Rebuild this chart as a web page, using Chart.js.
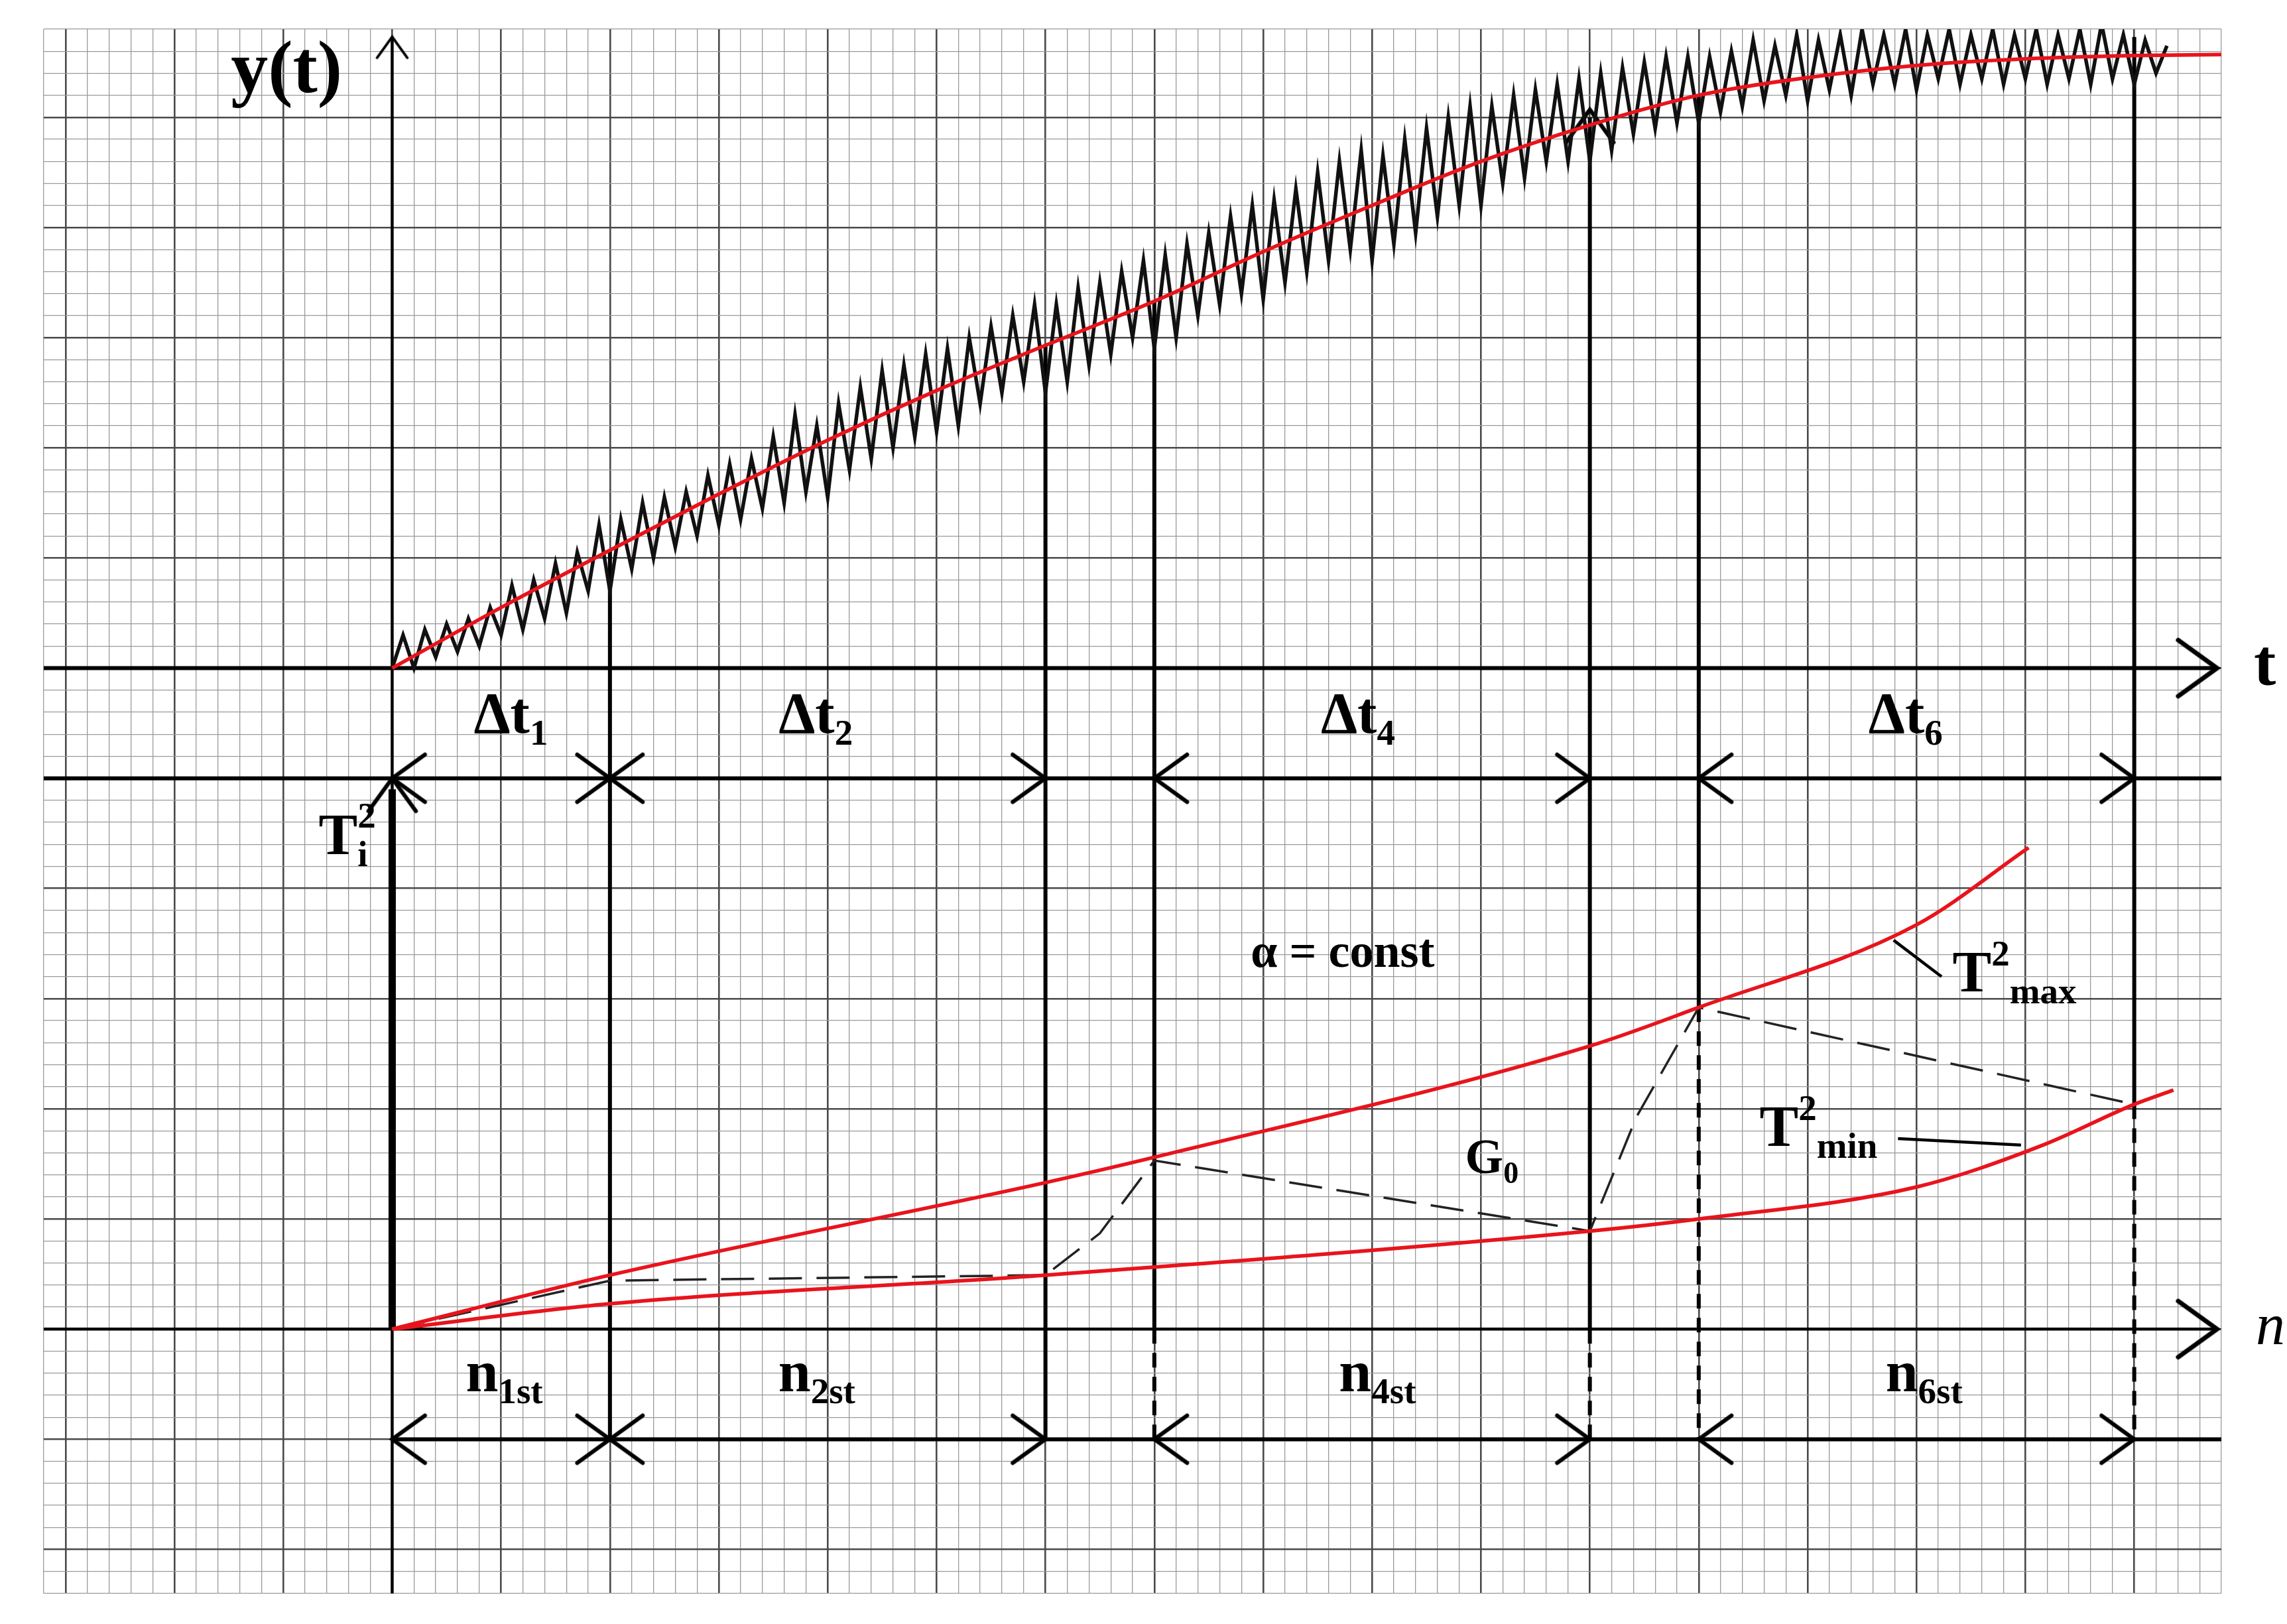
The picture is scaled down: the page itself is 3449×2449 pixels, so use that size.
<!DOCTYPE html>
<html lang="en">
<head>
<meta charset="UTF-8">
<title>y(t) and T² diagram</title>
<script src="https://cdn.jsdelivr.net/npm/chart.js"></script>
<style>
  html, body { margin: 0; padding: 0; background: #fff; }
  #wrap { width: 3449px; height: 2449px; }
</style>
</head>
<body>
<div id="wrap"><canvas id="c"></canvas></div>
<script>
// red trend of y(t)
const trendX = [0, 1, 2, 3, 4, 5, 6, 7, 8, 9, 10, 11, 12, 13, 14, 15, 16, 16.8];
const trendY = [6, 6.55, 7.07, 7.58, 8.07, 8.52, 8.93, 9.33, 9.78, 10.2, 10.6, 10.93, 11.2, 11.36, 11.47, 11.53, 11.56, 11.57];

// noisy measured y(t), sampled every 0.1 on t
const noisyY = [
  6.0, 6.3, 6.0, 6.35, 6.1, 6.4, 6.15, 6.45, 6.2, 6.55,
  6.3, 6.75, 6.35, 6.8, 6.45, 6.95, 6.5, 7.05, 6.7, 7.3,
  6.7, 7.35, 6.9, 7.5, 7.0, 7.55, 7.1, 7.6, 7.2, 7.75,
  7.3, 7.85, 7.35, 7.9, 7.45, 8.1, 7.5, 8.3, 7.6, 8.2,
  7.55, 8.4, 7.8, 8.55, 7.9, 8.7, 8.0, 8.75, 8.1, 8.85,
  8.15, 8.9, 8.2, 9.0, 8.4, 9.1, 8.5, 9.2, 8.6, 9.3,
  8.5, 9.3, 8.6, 9.45, 8.75, 9.5, 8.85, 9.6, 9.0, 9.7,
  8.9, 9.75, 9.0, 9.85, 9.2, 9.95, 9.3, 10.1, 9.4, 10.2,
  9.35, 10.25, 9.5, 10.35, 9.6, 10.5, 9.7, 10.6, 9.8, 10.7,
  9.7, 10.65, 9.85, 10.8, 9.95, 10.9, 10.1, 11.0, 10.2, 11.1,
  10.2, 11.1, 10.4, 11.2, 10.45, 11.25, 10.6, 11.3, 10.6, 11.35,
  10.6, 11.4, 10.7, 11.45, 10.85, 11.5, 10.9, 11.55, 10.95, 11.55,
  10.95, 11.55, 11.05, 11.6, 11.1, 11.7, 11.15, 11.65, 11.2, 11.75,
  11.15, 11.7, 11.25, 11.75, 11.2, 11.8, 11.3, 11.75, 11.3, 11.8,
  11.25, 11.75, 11.35, 11.8, 11.3, 11.75, 11.35, 11.8, 11.3, 11.75,
  11.35, 11.8, 11.3, 11.75, 11.35, 11.8, 11.3, 11.85, 11.35, 11.75,
  11.3, 11.7, 11.4, 11.65
];
const noisyStep = 0.1;

// T²max and T²min curves
const tmaxX = [0, 2, 6, 7, 11, 12, 14, 15.03];
const tmaxY = [0, 0.49, 1.33, 1.56, 2.57, 2.92, 3.67, 4.37];
const tminX = [0, 2, 6, 11, 12, 14, 15.16, 16, 16.36];
const tminY = [0, 0.23, 0.49, 0.89, 1.0, 1.29, 1.67, 2.04, 2.17];

// G0 dashed path
const g0X = [0, 2, 6, 6.5, 7, 11, 11.43, 12, 16];
const g0Y = [0, 0.44, 0.49, 0.87, 1.53, 0.89, 1.93, 2.92, 2.04];

// interval labels
const dtLabels = [['Δt', '1', 1.09], ['Δt', '2', 3.89], ['Δt', '4', 8.87], ['Δt', '6', 13.9]];
const nLabels = [['n', '1st', 1.03], ['n', '2st', 3.9], ['n', '4st', 9.05], ['n', '6st', 14.07]];

function seg(x1, y1, x2, y2) { return [{ x: x1, y: y1 }, { x: x2, y: y2 }]; }
function pts(xs, ys) { return xs.map((x, i) => ({ x, y: ys[i] })); }

function line(data, color, width, dash, smooth) {
  return { data, showLine: true, borderColor: color, borderWidth: width, borderDash: dash || [],
    pointRadius: 0, tension: smooth ? 0.4 : 0, cubicInterpolationMode: smooth ? 'monotone' : 'default', fill: false };
}

// chevron image, tip at centre, pointing right
function chevron(size, lw) {
  const c = document.createElement('canvas');
  c.width = size; c.height = size;
  const g = c.getContext('2d');
  g.strokeStyle = '#000'; g.lineWidth = lw; g.lineCap = 'round';
  const m = size / 2;
  g.beginPath();
  g.moveTo(m * 0.1, m * 0.35); g.lineTo(m, m); g.lineTo(m * 0.1, m * 1.65);
  g.stroke();
  return c;
}
const chev = chevron(110, 6);
const chevBig = chevron(130, 7);
const chevThin = chevron(70, 4);

function arrows(list, img) {
  return { data: list.map(a => ({ x: a[0], y: a[1] })), showLine: false,
    pointStyle: img, pointRotation: list.map(a => a[2]), pointRadius: 10 };
}

const black = '#000', red = '#e8141c';
const datasets = [
  line(pts(trendX, trendY), red, 5.5, null, true),
  line(noisyY.map((y, i) => ({ x: i * noisyStep, y })), '#111', 5.5),
  line(pts(tmaxX, tmaxY), red, 5.5, null, true),
  line(pts(tminX, tminY), red, 5.5, null, true),
  line(pts(g0X, g0Y), '#222', 3.5, [50, 22]),
  // axes
  line(seg(-3.2, 6, 16.76, 6), black, 6),
  line(seg(-3.2, 0, 16.76, 0), black, 4.5),
  line(seg(-3.2, 5, 16.8, 5), black, 6),
  line(seg(0, -1, 16.8, -1), black, 6),
  line(seg(0, -2.4, 0, 11.73), black, 4.5),
  line(seg(0, 0, 0, 4.9), black, 11),
  // verticals
  line(seg(2, 7.07, 2, -1), black, 6),
  line(seg(6, 8.93, 6, -1), black, 6),
  line(seg(7, 9.33, 7, 0), black, 6),
  line(seg(7, 0, 7, -1), black, 6, [22, 14]),
  line(seg(11, 11.0, 11, 0), black, 6),
  line(seg(11, 0, 11, -1), black, 6, [22, 14]),
  line(seg(12, 11.2, 12, 2.92), black, 6),
  line(seg(12, 2.92, 12, -1), black, 6, [22, 14]),
  line(seg(16, 11.73, 16, 2.04), black, 6),
  line(seg(16, 2.04, 16, -1), black, 6, [22, 14]),
  // leaders
  line(seg(13.79, 3.53, 14.23, 3.2), black, 4.5),
  line(seg(13.83, 1.73, 14.96, 1.67), black, 4.5),
  // arrowheads
  arrows([[16.76, 6, 0], [16.76, 0, 0]], chevBig),
  arrows([[0, 11.73, 270]], chevThin),
  arrows([[0, 5, 270], [11, 11.07, 270]], chev),
  arrows([
    [0, 5, 180], [2, 5, 0], [2, 5, 180], [6, 5, 0], [7, 5, 180], [11, 5, 0], [12, 5, 180], [16, 5, 0],
    [0, -1, 180], [2, -1, 0], [2, -1, 180], [6, -1, 0], [7, -1, 180], [11, -1, 0], [12, -1, 180], [16, -1, 0]
  ], chev)
];

// text labels: [x, y, parts, size, style]
const texts = [
  [-0.97, 11.4, [['y(t)', 'n']], 112, 'bold'],
  [17.2, 6, [['t', 'n']], 100, 'bold'],
  [-0.45, 4.45, [['T', 'n'], ['i', 'sub', '2']], 88, 'bold'],
  [8.73, 3.4, [['α = const', 'n']], 72, 'bold'],
  [14.9, 3.2, [['T', 'n'], ['2', 'sup'], ['max', 'sub']], 88, 'bold'],
  [13.1, 1.8, [['T', 'n'], ['2', 'sup'], ['min', 'sub']], 88, 'bold'],
  [10.1, 1.53, [['G', 'n'], ['0', 'sub']], 74, 'bold'],
  [17.25, 0, [['n', 'n']], 88, 'italic']
];
dtLabels.forEach(d => texts.push([d[2], 5.55, [[d[0], 'n'], [d[1], 'sub']], 88, 'bold']));
nLabels.forEach(d => texts.push([d[2], -0.43, [[d[0], 'n'], [d[1], 'sub']], 88, 'bold']));

const textPlugin = {
  id: 'texts',
  afterDatasetsDraw(chart) {
    const g = chart.ctx, xs = chart.scales.x, ys = chart.scales.y;
    g.save();
    g.fillStyle = '#000';
    g.textBaseline = 'middle';
    texts.forEach(([x, y, parts, size, style]) => {
      const small = Math.round(size * 0.62);
      const fBig = style + ' ' + size + 'px "Liberation Serif"';
      const fSmall = style + ' ' + small + 'px "Liberation Serif"';
      let w = 0;
      parts.forEach(p => { g.font = p[1] === 'n' ? fBig : fSmall; w += g.measureText(p[0]).width; });
      let cx = xs.getPixelForValue(x) - w / 2;
      const cy = ys.getPixelForValue(y);
      parts.forEach(p => {
        g.font = p[1] === 'n' ? fBig : fSmall;
        g.textAlign = 'left';
        if (p[1] === 'n') g.fillText(p[0], cx, cy);
        else if (p[1] === 'sup') g.fillText(p[0], cx, cy - size * 0.35);
        else g.fillText(p[0], cx, cy + size * 0.3);
        if (p[2]) g.fillText(p[2], cx, cy - size * 0.35);
        cx += g.measureText(p[0]).width;
      });
    });
    g.restore();
  }
};

const isMajor = v => Math.abs(v - Math.round(v)) < 1e-6;
const gridOpts = {
  color: c => isMajor(c.tick.value) ? '#4a4a4a' : '#9a9a9a',
  lineWidth: c => isMajor(c.tick.value) ? 2.6 : 1.3,
  drawTicks: false
};

new Chart(document.getElementById('c'), {
  type: 'scatter',
  data: { datasets },
  options: {
    responsive: true,
    maintainAspectRatio: false,
    animation: false,
    devicePixelRatio: 1,
    layout: { padding: { left: 66, right: 99, top: 44, bottom: 46 } },
    plugins: { legend: { display: false }, tooltip: { enabled: false } },
    scales: {
      x: { type: 'linear', min: -3.2, max: 16.8, ticks: { stepSize: 0.2, display: false },
        grid: gridOpts, border: { display: false } },
      y: { type: 'linear', min: -2.4, max: 11.8, ticks: { stepSize: 0.2, display: false },
        grid: gridOpts, border: { display: false } }
    }
  },
  plugins: [textPlugin]
});
</script>
</body>
</html>
